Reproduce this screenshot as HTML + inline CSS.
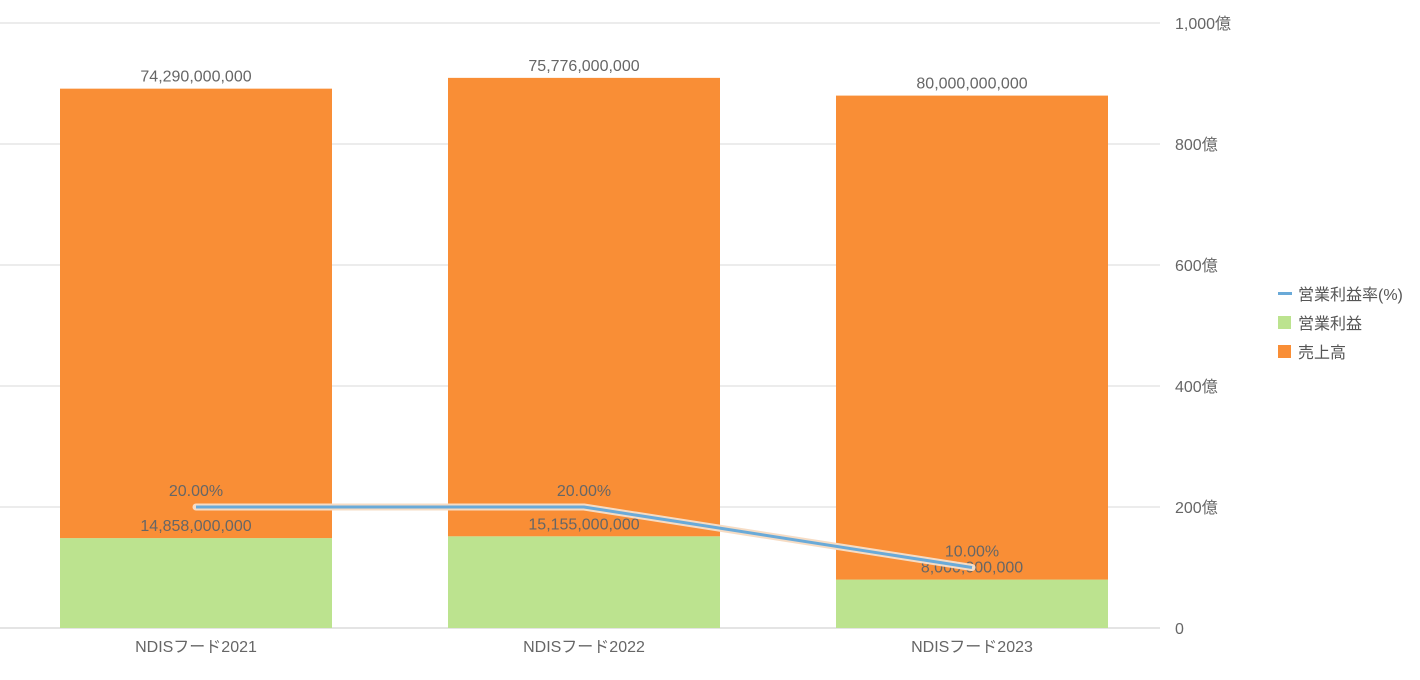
<!DOCTYPE html>
<html><head><meta charset="utf-8"><style>
html,body{margin:0;padding:0;background:#fff;}
svg{display:block;font-family:"Liberation Sans","Noto Sans CJK JP",sans-serif;}
</style></head><body>
<svg id="chart" width="1420" height="680" viewBox="0 0 1420 680"></svg>
<script>
const categories=["NDISフード2021","NDISフード2022","NDISフード2023"];
const salesValues=[74290000000,75776000000,80000000000];
const profitValues=[14858000000,15155000000,8000000000];
const marginValues=[20,20,10];
const tickValues=[0,200,400,600,800,1000];
const tickLabels=["0","200億","400億","600億","800億","1,000億"];

const NS="http://www.w3.org/2000/svg";
const svg=document.getElementById('chart');
const y0=628,yTop=23,plotL=0,plotR=1160,bandW=388,barW=272;
function y(oku){return y0-(oku/1000)*(y0-yTop);}
function xc(i){return 196+i*bandW;}
function el(tag,attrs,text){const e=document.createElementNS(NS,tag);for(const k in attrs)e.setAttribute(k,attrs[k]);if(text!==undefined)e.textContent=text;svg.appendChild(e);return e;}
function fmt(n){return n.toLocaleString('en-US');}

tickValues.forEach((t,i)=>{
  const g=el('line',{x1:plotL,x2:plotR,y1:y(t),y2:y(t),stroke:i===0?'#c8c8c8':'#dadada','stroke-width':1});
  
  
  const l=el('text',{x:1175,y:y(t)+6,'font-size':16,fill:'#666'},tickLabels[i]);
  
  
});

categories.forEach((c,i)=>{
  const p=profitValues[i]/1e8,s=salesValues[i]/1e8;
  const x=xc(i)-barW/2;
  const gb=el('rect',{x:x,y:y(p),width:barW,height:y0-y(p),fill:'#bce38f'});
  
  
  const ob=el('rect',{x:x,y:y(p+s),width:barW,height:y(p)-y(p+s),fill:'#f98e36'});
  
  
  const t1=el('text',{x:xc(i),y:y(p+s)-7,'font-size':16,fill:'#666','text-anchor':'middle'},fmt(salesValues[i]));
  
  
  const t2=el('text',{x:xc(i),y:y(p)-7,'font-size':16,fill:'#666','text-anchor':'middle'},fmt(profitValues[i]));
  
  
  const xl=el('text',{x:xc(i),y:652,'font-size':16,fill:'#666','text-anchor':'middle'},c);
  
  
});

const pts=marginValues.map((m,i)=>xc(i)+','+y(m*10)).join(' ');
const halo=el('polyline',{points:pts,fill:'none',stroke:'#f6dcc4','stroke-width':7,'stroke-linejoin':'round','stroke-linecap':'round'});


const line=el('polyline',{points:pts,fill:'none',stroke:'#6aaad8','stroke-width':3,'stroke-linejoin':'round'});


marginValues.forEach((m,i)=>{
  const t=el('text',{x:xc(i),y:y(m*10)-11,'font-size':16,fill:'#666','text-anchor':'middle'},m.toFixed(2)+'%');
  
  
});

const legend=[["営業利益率(%)","line","#6aaad8"],["営業利益","rect","#bce38f"],["売上高","rect","#f98e36"]];
legend.forEach((L,i)=>{
  const ly=294+i*29;
  let m;
  if(L[1]==='line') m=el('rect',{x:1278,y:ly-2,width:14,height:3,fill:L[2]});
  else m=el('rect',{x:1278,y:ly-7,width:13,height:13,fill:L[2]});
  
  
  const t=el('text',{x:1298,y:ly+6,'font-size':16,fill:'#555'},L[0]);
  
  
});
</script>
</body></html>
